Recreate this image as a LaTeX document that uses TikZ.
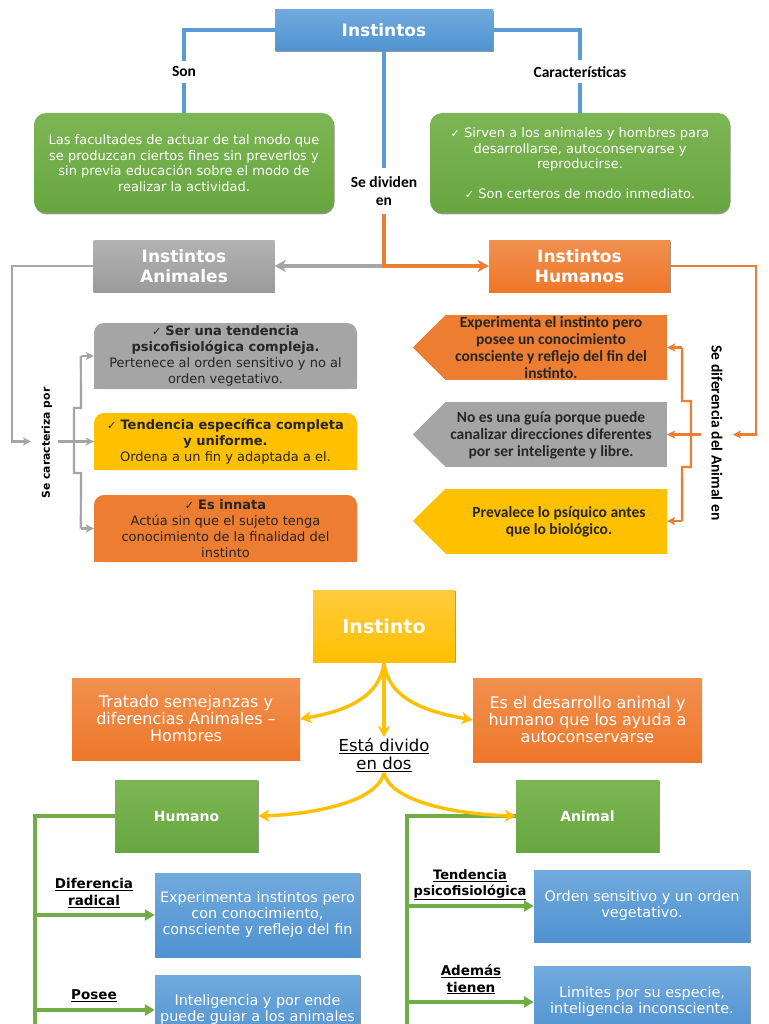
\documentclass[tikz,border=0pt]{standalone}
\usepackage{fontspec}
\setmainfont{DejaVu Sans}
\newfontfamily\calib{Carlito}
\usetikzlibrary{arrows.meta,shadows}
\definecolor{cblue}{HTML}{5B9BD5}
\definecolor{cbluet}{HTML}{71AADD}
\definecolor{cblueb}{HTML}{4F92D1}
\definecolor{cgreen}{HTML}{70AD47}
\definecolor{cgreent}{HTML}{7DB655}
\definecolor{cgreenb}{HTML}{67A63F}
\definecolor{cgray}{HTML}{A5A5A5}
\definecolor{cgrayt}{HTML}{B2B2B2}
\definecolor{cgrayb}{HTML}{9B9B9B}
\definecolor{corange}{HTML}{ED7D31}
\definecolor{coranget}{HTML}{F1904F}
\definecolor{corangeb}{HTML}{EE772A}
\definecolor{cyellow}{HTML}{FFC000}
\definecolor{cyellowt}{HTML}{FFCB3D}
\definecolor{ctext}{HTML}{262626}
\newcommand{\chk}{{\fontsize{11}{11}\selectfont ✓}}
\tikzset{
  tipA/.tip={Stealth[length=11pt,width=12pt,inset=3pt]},
  tipB/.tip={Stealth[length=8pt,width=8pt,inset=2pt]},
  tipY/.tip={Stealth[length=11pt,width=12pt,inset=3pt]},
  tipG/.tip={Triangle[length=10pt,width=11pt]},
}
\begin{document}
\begin{tikzpicture}[x=1pt,y=-1pt,
  shad/.style={drop shadow={shadow xshift=0.6pt,shadow yshift=-1.4pt,opacity=0.55,fill=black!75}},
  hd/.style={inner sep=0pt,align=center,text=white,font={\bfseries\fontsize{17}{20}\selectfont}},
  gbox/.style={shad,rounded corners=12pt,top color=cgreent,bottom color=cgreenb,minimum width=300,minimum height=100,inner sep=0pt,align=center,text=white,font={\fontsize{13}{15.5}\selectfont}},
  lbl/.style={fill=white,inner xsep=2pt,inner ysep=6pt,align=center,font={\calib\bfseries\fontsize{15.5}{18}\selectfont}},
  tab/.style={rounded corners=10pt,minimum width=263,inner sep=0pt,align=center,text=ctext,font={\fontsize{13}{16}\selectfont}},
  pent/.style={minimum width=221,minimum height=65,inner sep=0pt},
  ptext/.style={align=center,text=ctext,inner sep=0pt,font={\calib\bfseries\fontsize{15.5}{17}\selectfont}},
  obox/.style={top color=coranget,bottom color=corangeb,inner sep=0pt,align=center,text=white,font={\fontsize{16}{17}\selectfont}},
  grbox/.style={shad,top color=cgreent,bottom color=cgreenb,minimum width=143,minimum height=72,inner sep=0pt,text=white,font={\bfseries\fontsize{14}{16}\selectfont}},
  blbox/.style={shad,top color=cbluet,bottom color=cblueb,inner sep=0pt,align=center,text=white,font={\fontsize{14.4}{16}\selectfont}},
  ulbl/.style={align=center,inner sep=1pt,font={\bfseries\fontsize{13.5}{16.5}\selectfont}},
  bline/.style={draw=cblue,line width=4pt},
  gyline/.style={draw=cgray,line width=3.5pt},
  orline/.style={draw=corange,line width=3.5pt},
  gythin/.style={draw=cgray,line width=2.2pt},
  orthin/.style={draw=corange,line width=2.4pt},
  ylline/.style={draw=cyellow,line width=3.4pt},
  grline/.style={draw=cgreen,line width=3.6pt},
]
\useasboundingbox[fill=white] (0,0) rectangle (768,1024);

% ---------- top part ----------
\node[hd,shad,top color=cbluet,bottom color=cblueb,minimum width=218,minimum height=41] (inst) at (384,30.5) {Instintos};
\node[gbox] (g1) at (184,163) {Las facultades de actuar de tal modo que\\se produzcan ciertos fines sin preverlos y\\sin previa educación sobre el modo de\\realizar la actividad.};
\node[gbox] (g2) at (580,163) {\chk\ Sirven a los animales y hombres para\\desarrollarse, autoconservarse y\\reproducirse.\\[14pt]\chk\ Son certeros de modo inmediato.};

\draw[bline] (inst.west) -| node[lbl,pos=0.75] (son) {Son} (g1.north);
\draw[bline] (inst.east) -| node[lbl,pos=0.75] (carac) {Características} (g2.north);

\node[lbl,inner ysep=8pt,fill=none] (sediv) at (384,191) {Se dividen\\en};
\draw[bline] (inst.south) -- (sediv.north);

\node[hd,shad,top color=cgrayt,bottom color=cgrayb,minimum width=181,minimum height=52] (ani) at (184,266) {Instintos\\Animales};
\node[hd,shad,top color=coranget,bottom color=corangeb,minimum width=181,minimum height=52] (hum) at (579.5,266) {Instintos\\Humanos};

\draw[gyline,-{tipA}] (sediv.south |- ani.east) -- (ani.east);
\draw[orline,-{tipA}] (sediv.south) |- (hum.west);

% ---------- left column ----------
\fill[cgray] (94,356) rectangle (357,389);
\node[tab,fill=cgray,minimum height=66] (b1) at (225.5,356) {\chk\ \textbf{Ser una tendencia}\\\textbf{psicofisiológica compleja.}\\Pertenece al orden sensitivo y no al\\orden vegetativo.};
\fill[cyellow] (94,441) rectangle (357,470);
\node[tab,fill=cyellow,minimum height=57] (b2) at (225.5,441.5) {\chk\ \textbf{Tendencia específica completa}\\\textbf{y uniforme.}\\Ordena a un fin y adaptada a el.};
\fill[corange] (94,528) rectangle (357,562);
\node[tab,fill=corange,minimum height=67] (b3) at (225.5,528.5) {\chk\ \textbf{Es innata}\\Actúa sin que el sujeto tenga\\conocimiento de la finalidad del\\instinto};

\coordinate (carin) at (31,441.5);
\draw[gythin,-{tipB}] (ani.west) -| (12,441.5) -- (carin);
\node[rotate=90,inner sep=0pt,font={\bfseries\fontsize{10.8}{12}\selectfont}] (secar) at (47,443) {Se caracteriza por};
\coordinate (brk) at (58,441.5);
\draw[gythin,-{tipB}] (brk) -- (b2.west);
\draw[gythin] ([xshift=-13pt]b1.west) -- (81,408) -- (74,408) -- (74,473) -- (81,473) -- ([xshift=-13pt]b3.west);
\draw[gythin,-{tipB}] ([xshift=-13pt]b1.west) -- (b1.west);
\draw[gythin,-{tipB}] ([xshift=-13pt]b3.west) -- (b3.west);

% ---------- right column ----------
\node[pent,fill=corange] (p1) at (556.5,347.5) {};
\fill[corange] (p1.north west) -- ([xshift=-33pt]p1.west) -- (p1.south west) -- cycle;
\node[ptext] (pt1) at (551,348) {Experimenta el instinto pero\\posee un conocimiento\\consciente y reflejo del fin del\\instinto.};
\node[pent,fill=cgray] (p2) at (556.5,434.5) {};
\fill[cgray] (p2.north west) -- ([xshift=-33pt]p2.west) -- (p2.south west) -- cycle;
\node[ptext] (pt2) at (551,435) {No es una guía porque puede\\canalizar direcciones diferentes\\por ser inteligente y libre.};
\node[pent,fill=cyellow] (p3) at (556.5,521) {};
\fill[cyellow] (p3.north west) -- ([xshift=-33pt]p3.west) -- (p3.south west) -- cycle;
\node[ptext] (pt3) at (559,521.5) {Prevalece lo psíquico antes\\que lo biológico.};

\coordinate (difin) at (733,434.5);
\draw[orthin,-{tipB}] (hum.east) -| (756,434.5) -- (difin);
\node[rotate=-90,inner sep=0pt,font={\calib\bfseries\fontsize{15.5}{17}\selectfont}] (sedif) at (717,433) {Se diferencia del Animal en};
\coordinate (difout) at (701,434.5);
\draw[orthin,-{tipB}] (difout) -- (p2.east);
\draw[orthin] ([xshift=15pt]p1.east) -- (682,401) -- (691,401) -- (691,467) -- (682,467) -- ([xshift=15pt]p3.east);
\draw[orthin,-{tipB}] ([xshift=15pt]p1.east) -- (p1.east);
\draw[orthin,-{tipB}] ([xshift=15pt]p3.east) -- (p3.east);

% ---------- bottom part ----------
\node[hd,shad,top color=cyellowt,bottom color=cyellow,minimum width=142,minimum height=72,font={\bfseries\fontsize{19}{22}\selectfont}] (ins2) at (384,626) {Instinto};
\node[obox,minimum width=228,minimum height=82] (ol) at (186,719) {Tratado semejanzas y\\diferencias Animales –\\Hombres};
\node[obox,minimum width=229,minimum height=84] (or) at (587.5,720) {Es el desarrollo animal y\\humano que los ayuda a\\autoconservarse};
\node[align=center,inner sep=1pt,font={\fontsize{16.5}{18}\selectfont}] (esta) at (384,755) {\underline{Está divido}\\\underline{en dos}};

\node[grbox] (hum2) at (186.5,816) {Humano};
\node[grbox] (ani2) at (587.5,816) {Animal};

\node[blbox,minimum width=205,minimum height=84] (bl1) at (257.5,915) {Experimenta instintos pero\\con conocimiento,\\consciente y reflejo del fin};
\node[blbox,minimum width=205,minimum height=70] (bl2) at (257.5,1010) {Inteligencia y por ende\\puede guiar a los animales};
\node[blbox,minimum width=216,minimum height=72] (bl3) at (642,906) {Orden sensitivo y un orden\\vegetativo.};
\node[blbox,minimum width=216,minimum height=72] (bl4) at (642,1002) {Limites por su especie,\\inteligencia inconsciente.};

\coordinate (hb) at (35,1030);
\draw[grline] (hum2.west) -| (hb);
\draw[grline,-{tipG}] (hb |- bl1.west) -- (bl1.west);
\draw[grline,-{tipG}] (hb |- bl2.west) -- (bl2.west);
\coordinate (ab) at (407,1030);
\draw[grline] (ani2.west) -| (ab);
\draw[grline,-{tipG}] (ab |- bl3.west) -- (bl3.west);
\draw[grline,-{tipG}] (ab |- bl4.west) -- (bl4.west);

\node[ulbl] (l1) at (94,893) {\underline{Diferencia}\\\underline{radical}};
\node[ulbl] (l2) at (94,996) {\underline{Posee}};
\node[ulbl,font={\bfseries\fontsize{13}{15.5}\selectfont}] (l3) at (470,885) {\underline{Tendencia}\\\underline{psicofisiológica}};
\node[ulbl] (l4) at (471,979.5) {\underline{Además}\\\underline{tienen}};

\draw[ylline,-{tipY}] (ins2.south) .. controls (380,700) and (340,712) .. (ol.east);
\draw[ylline,-{tipY}] (ins2.south) -- (esta.north);
\draw[ylline,-{tipY}] (ins2.south) .. controls (388,700) and (428,712) .. (or.west);
\draw[ylline,-{tipY}] (esta.south) .. controls (378,800) and (320,814) .. (hum2.east);
\draw[ylline,-{tipY}] (esta.south) .. controls (390,800) and (450,814) .. (ani2.west);
\end{tikzpicture}
\end{document}
